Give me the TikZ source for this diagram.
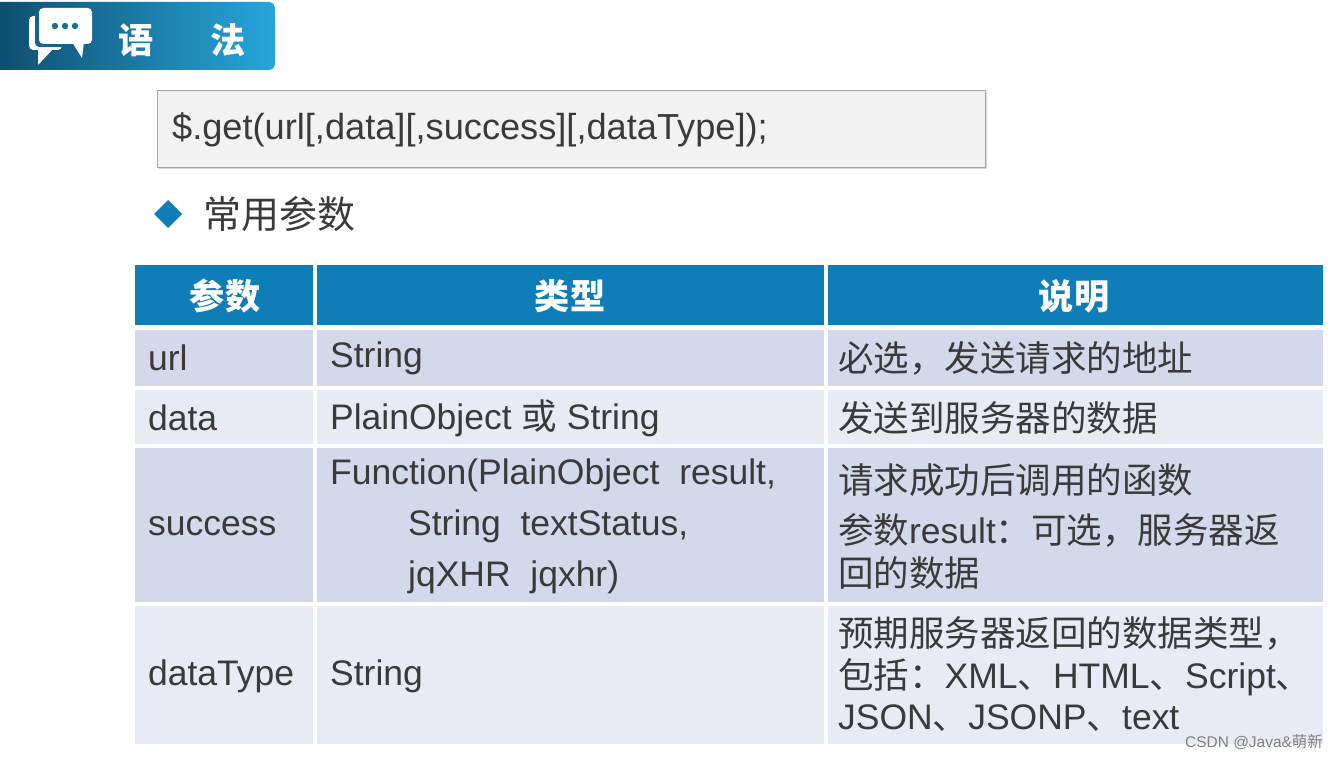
\documentclass[tikz,border=0pt]{standalone}
\usepackage{fontspec}
\setmainfont{Liberation Sans}
\newfontfamily\cjk{Noto Sans CJK SC}
\usetikzlibrary{positioning,shadows}
\definecolor{headblue}{HTML}{0E7DB8}
\definecolor{rowdark}{HTML}{D3D8EA}
\definecolor{rowlight}{HTML}{E9EBF4}
\definecolor{txtgray}{HTML}{3A3A3A}
\definecolor{bandL}{HTML}{0D4868}
\definecolor{bandR}{HTML}{27A6DB}
\tikzset{
  cell/.style={anchor=west, inner sep=0pt, text=txtgray, font=\fontsize{50.5}{60}\selectfont},
  headcell/.style={inner sep=0pt, text=white, font=\cjk\bfseries\fontsize{50}{60}\selectfont},
}
\newcommand{\zh}[1]{{\cjk #1}}
\begin{document}
\begin{tikzpicture}[x=0.05cm, y=-0.05cm]
\useasboundingbox (0,0) rectangle (1339,760);
\fill[white] (0,0) rectangle (1339,760);
% title band
\shade[left color=bandL, right color=bandR, rounded corners=8pt] (-20,2) rectangle (275,70);
\fill[white, rounded corners=6pt] (29,16) rectangle (62,50);
\fill[white] (38,48) -- (38,65) -- (54,48) -- cycle;
\fill[bandL!70!bandR, rounded corners=6pt] (35,10) rectangle (92,47);
\fill[white, rounded corners=6pt] (39,8) rectangle (92,44);
\fill[white] (72,42) -- (82,58) -- (84,42) -- cycle;
\foreach \dx in {55,65,75} \fill[bandL!60!bandR] (\dx,26) circle (3.2);
\node[headcell, anchor=west] (tyu) at (118,40) {语};
\node[headcell, anchor=west] (tfa) at (210,40) {法};
% code box
\node[draw=gray!70, fill=black!5, line width=1.2pt, drop shadow={opacity=0.3}, anchor=north west,
  minimum width=828*0.05cm, minimum height=77*0.05cm, inner sep=0pt] (code) at (157,90) {};
\node[cell, font=\fontsize{51.5}{60}\selectfont] (codetxt) at (172,130) {\$.get(url[,data][,success][,dataType]);};
% bullet
\fill[headblue] (168,200) -- (182,214) -- (168,228) -- (154,214) -- cycle;
\node[cell, font=\cjk\fontsize{54}{64}\selectfont] (common) at (203,214) {常用参数};
% table backgrounds
\fill[headblue] (135,265) rectangle (1323,325);
\foreach \ya/\yb/\c in {330/386/rowdark, 390/444/rowlight, 448/602/rowdark, 606/744/rowlight}
  \fill[\c] (135,\ya) rectangle (1323,\yb);
\foreach \xx in {315,826} \fill[white] (\xx-2,265) rectangle (\xx+2,744);
% header
\node[headcell] (hpar) at (225,296) {参数};
\node[headcell] (htype) at (570,296) {类型};
\node[headcell] (hdesc) at (1074,296) {说明};
% rows
\node[cell] (url) at (148,358) {url};
\node[cell] (urlt) at (330,358) {String};
\node[cell] (urld) at (838,358) {\zh{必选，发送请求的地址}};
\node[cell] (data) at (148,418) {data};
\node[cell] (datat) at (330,418) {PlainObject \zh{或} String};
\node[cell] (datad) at (838,418) {\zh{发送到服务器的数据}};
\node[cell] (succ) at (148,526) {success};
\node[cell] (succt1) at (330,475) {Function(PlainObject\ \ result,};
\node[cell] (succt2) at (408,526) {String\ \ textStatus,};
\node[cell] (succt3) at (408,577) {jqXHR\ \ jqxhr)};
\node[cell] (succd1) at (838,480) {\zh{请求成功后调用的函数}};
\node[cell] (succd2) at (838,530) {\zh{参数}result\zh{：可选，服务器返}};
\node[cell] (succd3) at (838,573) {\zh{回的数据}};
\node[cell] (dtyp) at (148,676) {dataType};
\node[cell] (dtypt) at (330,676) {String};
\node[cell] (dtypd1) at (838,633) {\zh{预期服务器返回的数据类型，}};
\node[cell] (dtypd2) at (838,677) {\zh{包括：}XML\zh{、}HTML\zh{、}Script\zh{、}};
\node[cell] (dtypd3) at (838,718) {JSON\zh{、}JSONP\zh{、}text};
% watermark
\node[anchor=east, inner sep=0pt, text=gray, font=\fontsize{22}{26}\selectfont] (mark) at (1323,742) {CSDN @Java\&\zh{萌新}};
\end{tikzpicture}
\end{document}
